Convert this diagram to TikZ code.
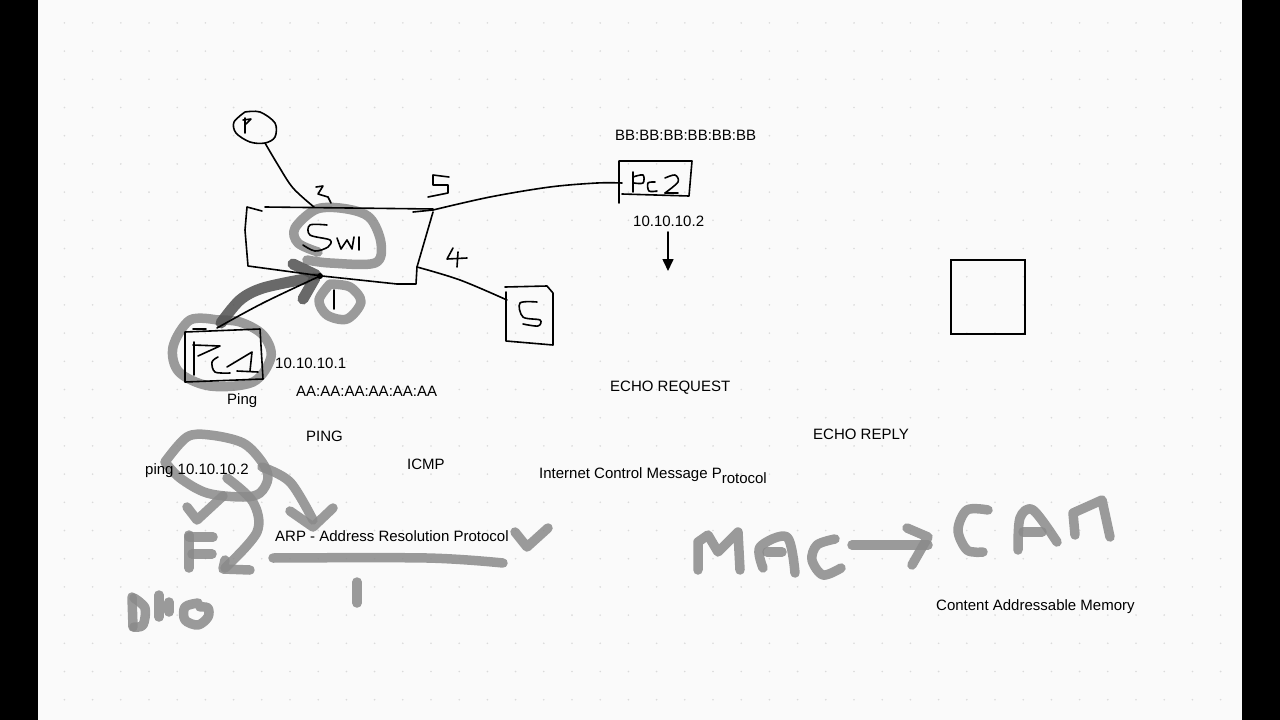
\documentclass[tikz,border=0pt]{standalone}
\usepackage{fontspec}
\setmainfont{Liberation Sans}
\usetikzlibrary{arrows.meta}
\definecolor{paper}{HTML}{FAFAFA}
\definecolor{griddot}{HTML}{DADADA}
\definecolor{marker}{HTML}{8A8A8A}
\definecolor{darkmarker}{HTML}{505050}
\tikzset{
  ink/.style={draw=black,line width=1.6pt,line cap=round,line join=round},
  mark pen/.style={draw=marker,line width=9.5pt,line cap=round,line join=round,opacity=.85},
  dark pen/.style={draw=darkmarker,line width=11pt,line cap=round,line join=round,opacity=.85},
  curve/.style={smooth,tension=.55},
  label text/.style={inner sep=0pt,anchor=base west,text=black,font=\fontsize{15}{17}\selectfont},
}
\begin{document}
\begin{tikzpicture}[x=1pt,y=-1pt]
\useasboundingbox (0,0) rectangle (1280,720);
\fill[paper] (0,0) rectangle (1280,720);
% dotted page
\foreach \i in {0,...,41} \foreach \j in {0,...,24}
  \fill[griddot] ({64.4+28.2*\i},{22.9+28.2*\j}) circle (.9pt);
\fill[black] (0,0) rectangle (38,720);
\fill[black] (1242,0) rectangle (1280,720);

% named anchors
\coordinate (pfoot) at (265,143);
\coordinate (swtop) at (314,207);
\coordinate (swcorner) at (433,210);
\coordinate (pctwoport) at (622,183);
\coordinate (swright) at (417,267);
\coordinate (sport) at (507,300);
\coordinate (pconeport) at (217,328);
\coordinate (swbottom) at (320,276);
\coordinate (arrowtop) at (668,232);
\coordinate (arrowend) at (668,271);

% marker strokes behind
\draw[mark pen,curve] plot coordinates {(307,260) (330,263) (375,263) (381,243) (370,218) (347,209) (317,209) (295,228) (298,243) (318,252)};
\draw[mark pen,curve] plot coordinates {(217,320) (190,320) (173,347) (179,372) (210,386) (253,382) (271,357) (263,335) (240,322) (217,320)};
\draw[mark pen,curve] plot coordinates {(330,284) (319,300) (327,315) (347,319) (361,302) (350,287) (330,284)};
\draw[dark pen,curve] plot coordinates {(221,323) (240,300) (263,288) (305,279)};
\draw[dark pen] (293,264) -- (316,275);
\draw[dark pen] (303,299) -- (315,278);

% switch
\draw[ink] (265,207) -- (433,209);
\draw[ink] (262,211) -- (247,207) -- (245,230) -- (248,266) -- (322,276) -- (397,284) -- (416,284) -- (417,267) -- (433,212);
\draw[ink] (413,212) -- (433,210);
\draw[ink,curve] plot coordinates {(327,225) (310,225) (310,235) (330,240) (328,247) (315,251) (303,245)};
\draw[ink] (337,238) -- (341,249) -- (347,240) -- (352,249) -- (354,237);
\draw[ink] (359,237) -- (359,250);

% P circle
\draw[ink,curve] plot coordinates {(245,112) (260,112) (275,123) (275,137) (265,143) (250,142) (236,133) (234,122) (245,112)};
\draw[ink] (245,118) -- (245,133);
\draw[ink] (243,120) -- (251,119) -- (246,124);
\draw[ink,curve] plot coordinates {(pfoot) (278,165) (293,188) (swtop)};
\draw[ink] (316,187) -- (323,186) -- (318,194) -- (328,197) -- (331,203);

% digit 5 and PC2
\draw[ink,curve] plot coordinates {(swcorner) (490,197) (550,187) (597,183) (pctwoport)};
\draw[ink] (449,177) -- (433,175) -- (433,185) -- (448,185) -- (448,193) -- (428,197);
\draw[ink] (619,203) -- (619,161) -- (692,161) -- (689,196) -- (622,194);
\draw[ink] (633,172) -- (633,192);
\draw[ink,curve] plot coordinates {(633,177) (643,175) (643,183) (634,183)};
\draw[ink,curve] plot coordinates {(655,182) (648,183) (649,191) (657,191)};
\draw[ink,curve] plot coordinates {(665,178) (675,175) (678,182) (665,193)};
\draw[ink] (665,193) -- (678,193);

% digit 4 and S
\draw[ink,curve] plot coordinates {(swright) (460,280) (sport)};
\draw[ink] (453,248) -- (447,259) -- (467,258);
\draw[ink] (458,252) -- (457,267);
\draw[ink] (505,287) -- (547,286) -- (553,293) -- (553,345) -- (506,341) -- (506,292);
\draw[ink,curve] plot coordinates {(537,302) (520,303) (523,317) (540,320) (538,326) (523,324)};

% PC1
\draw[ink] (185,332) -- (260,329) -- (263,379) -- (185,382) -- cycle;
\draw[ink] (193,329) -- (206,329);
\draw[ink] (194,342) -- (194,375);
\draw[ink] (193,345) -- (220,346) -- (198,356);
\draw[ink,curve] plot coordinates {(218,357) (212,362) (215,372) (230,373)};
\draw[ink] (227,367) -- (252,352) -- (250,371);
\draw[ink] (237,371) -- (258,372);
\draw[ink,curve] plot coordinates {(pconeport) (263,303) (swbottom)};
\fill[black] (swbottom) circle (3pt);
\draw[ink] (334,290) -- (334,309);

% arrow and square
\draw[ink,-{Triangle[length=12pt,width=11pt]}] (arrowtop) -- (arrowend);
\draw[black,line width=1.4pt] (951,260) rectangle (1025,334);

% ping loop and arrows
\draw[mark pen,curve] plot coordinates {(165,462) (187,437) (210,435) (243,443) (262,462) (268,478) (260,493) (243,497) (207,493) (180,478) (165,462)};
\draw[mark pen,curve] plot coordinates {(262,467) (290,482) (313,520)};
\draw[mark pen] (290,511) -- (313,527) -- (333,508);
\draw[mark pen,curve] plot coordinates {(227,478) (253,502) (257,532) (225,568)};
\draw[mark pen] (225,560) -- (223,569) -- (250,570);
\draw[mark pen] (187,507) -- (197,520) -- (223,496);
\draw[mark pen] (189,535) -- (189,568);
\draw[mark pen] (189,537) -- (213,537);
\draw[mark pen] (192,554) -- (212,554);
\draw[mark pen,curve] plot coordinates {(273,558) (427,558) (503,563)};
\draw[mark pen] (357,582) -- (357,603);
\draw[mark pen] (515,532) -- (527,547) -- (548,528);
% Dlc
\draw[mark pen] (132,597) -- (133,627);
\draw[mark pen,curve] plot coordinates {(134,598) (145,608) (143,625) (134,627)};
\draw[mark pen] (159,595) -- (159,617);
\draw[mark pen] (169,602) -- (169,612);
\draw[mark pen,curve] plot coordinates {(198,603) (185,607) (185,620) (198,625) (208,617) (208,608) (200,607)};
% MAC -> CAM
\draw[mark pen] (698,570) -- (698,542) -- (708,535) -- (718,552) -- (738,532) -- (740,570);
\draw[mark pen,curve] plot coordinates {(763,568) (760,547) (787,537) (795,573)};
\draw[mark pen] (767,552) -- (782,552);
\draw[mark pen,curve] plot coordinates {(835,539) (817,545) (812,560) (823,575) (841,568)};
\draw[mark pen] (852,545) -- (928,545);
\draw[mark pen] (907,528) -- (928,537) -- (912,565);
\draw[mark pen,curve] plot coordinates {(988,510) (967,510) (958,530) (967,550) (983,552)};
\draw[mark pen,curve] plot coordinates {(1018,550) (1020,518) (1033,510) (1057,542)};
\draw[mark pen] (1023,532) -- (1042,532);
\draw[mark pen] (1075,535) -- (1073,513) -- (1102,500) -- (1110,537);

% texts
\node[label text] (bb) at (615,140) {BB:BB:BB:BB:BB:BB};
\node[label text] (ipb) at (633,226) {10.10.10.2};
\node[label text] (ipa) at (275,368) {10.10.10.1};
\node[label text] (aa) at (296,396) {AA:AA:AA:AA:AA:AA};
\node[label text] (pinga) at (227,404) {Ping};
\node[label text] (pingb) at (306,441) {PING};
\node[label text] (icmp) at (407,469) {ICMP};
\node[label text] (pingc) at (145,474) {ping 10.10.10.2};
\node[label text] (arp) at (275,541) {ARP - Address Resolution Protocol};
\node[label text] (req) at (610,391) {ECHO REQUEST};
\node[label text] (rep) at (813,439) {ECHO REPLY};
\node[label text] (inet) at (539,478) {Internet Control Message P\raisebox{-5pt}{rotocol}};
\node[label text] (cam) at (936,610) {Content Addressable Memory};
\end{tikzpicture}
\end{document}
